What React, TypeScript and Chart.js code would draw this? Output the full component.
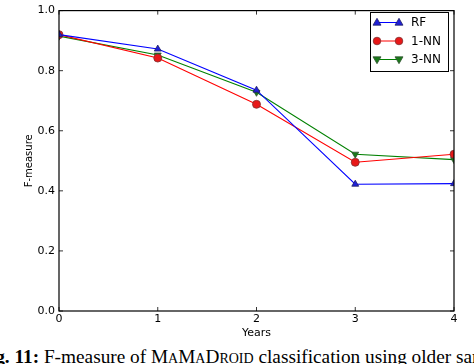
import React, { useEffect, useRef } from "react";
import { Chart, registerables } from "chart.js";

Chart.register(...registerables);

const years = [0, 1, 2, 3, 4];
const rfValues = [0.92, 0.872, 0.735, 0.422, 0.424];
const nn1Values = [0.92, 0.842, 0.688, 0.495, 0.522];
const nn3Values = [0.915, 0.852, 0.728, 0.522, 0.504];
const seriesLabels = ["RF", "1-NN", "3-NN"];
const yTicks = [0, 0.2, 0.4, 0.6, 0.8, 1.0];

const FONT = "'DejaVu Sans', sans-serif";

function drawMarker(ctx: CanvasRenderingContext2D, style: string, rot: number, x: number, y: number, r: number, fill: string, stroke: string) {
  ctx.save();
  ctx.fillStyle = fill;
  ctx.strokeStyle = stroke;
  ctx.lineWidth = 0.8;
  ctx.beginPath();
  if (style === "circle") {
    ctx.arc(x, y, r, 0, Math.PI * 2);
  } else {
    const s = rot === 180 ? -1 : 1;
    ctx.moveTo(x, y - s * r * 1.1);
    ctx.lineTo(x + r * 1.05, y + s * r * 0.7);
    ctx.lineTo(x - r * 1.05, y + s * r * 0.7);
    ctx.closePath();
  }
  ctx.fill();
  ctx.stroke();
  ctx.restore();
}

const framePlugin = {
  id: "frameTicks",
  afterDraw(chart: any) {
    const { ctx, chartArea, scales } = chart;
    const { left, right, top, bottom } = chartArea;
    ctx.save();
    ctx.strokeStyle = "#000";
    ctx.lineWidth = 1.2;
    ctx.strokeRect(left, top, right - left, bottom - top);
    ctx.lineWidth = 0.8;
    const tl = 4;
    years.forEach((v) => {
      const x = scales.x.getPixelForValue(v);
      ctx.beginPath();
      ctx.moveTo(x, bottom);
      ctx.lineTo(x, bottom - tl);
      ctx.moveTo(x, top);
      ctx.lineTo(x, top + tl);
      ctx.stroke();
    });
    yTicks.forEach((v) => {
      const y = scales.y.getPixelForValue(v);
      ctx.beginPath();
      ctx.moveTo(left, y);
      ctx.lineTo(left + tl, y);
      ctx.moveTo(right, y);
      ctx.lineTo(right - tl, y);
      ctx.stroke();
    });
    // legend
    const bx = 370, by = 12, bw = 78, bh = 59;
    ctx.fillStyle = "#fff";
    ctx.fillRect(bx, by, bw, bh);
    ctx.lineWidth = 1;
    ctx.strokeStyle = "#000";
    ctx.strokeRect(bx + 0.5, by + 0.5, bw, bh);
    chart.data.datasets.forEach((ds: any, i: number) => {
      const y = 22.5 + i * 18.5;
      const x1 = 377, x2 = 399;
      ctx.strokeStyle = ds.borderColor;
      ctx.lineWidth = 1;
      ctx.beginPath();
      ctx.moveTo(x1, y);
      ctx.lineTo(x2, y);
      ctx.stroke();
      drawMarker(ctx, ds.pointStyle, ds.pointRotation || 0, x1, y, 3.8, ds.pointBackgroundColor, ds.pointBorderColor);
      drawMarker(ctx, ds.pointStyle, ds.pointRotation || 0, x2, y, 3.8, ds.pointBackgroundColor, ds.pointBorderColor);
      ctx.fillStyle = "#000";
      ctx.font = "12px " + FONT;
      ctx.textBaseline = "middle";
      ctx.textAlign = "left";
      ctx.fillText(ds.label, 411, y + 0.5);
    });
    ctx.restore();
  },
};

export default function App() {
  const ref = useRef<HTMLCanvasElement>(null);
  useEffect(() => {
    const mk = (label: string, vals: number[], color: string, fill: string, edge: string, style: string, rot: number) => ({
      label,
      data: years.map((x, i) => ({ x, y: vals[i] })),
      borderColor: color,
      borderWidth: 1.1,
      pointStyle: style,
      pointRotation: rot,
      pointRadius: 4,
      pointBackgroundColor: fill,
      pointBorderColor: edge,
      pointBorderWidth: 0.8,
      clip: 0,
      tension: 0,
    });
    const chart = new Chart(ref.current!, {
      type: "line",
      data: {
        datasets: [
          mk(seriesLabels[0], rfValues, "#0000ff", "#1f1fd8", "#202060", "triangle", 0),
          mk(seriesLabels[1], nn1Values, "#ff0000", "#e81818", "#803030", "circle", 0),
          mk(seriesLabels[2], nn3Values, "#008000", "#1a7a1a", "#305030", "triangle", 180),
        ],
      },
      options: {
        animation: false,
        responsive: false,
        devicePixelRatio: 1,
        layout: { padding: { top: 6, right: 20, left: 0, bottom: 0 } },
        plugins: { legend: { display: false }, tooltip: { enabled: false } },
        scales: {
          x: {
            type: "linear",
            min: 0,
            max: 4,
            ticks: { stepSize: 1, color: "#000", font: { family: FONT, size: 11 }, padding: 2 },
            grid: { display: false, drawTicks: false },
            border: { display: false },
            title: { display: true, text: "Years", color: "#000", font: { family: FONT, size: 11 }, padding: { top: 0, bottom: 5 } },
            afterFit: (s: any) => { s.height = 34; },
          },
          y: {
            min: 0,
            max: 1,
            ticks: { stepSize: 0.2, color: "#000", font: { family: FONT, size: 11 }, padding: 4, callback: (v: any) => Number(v).toFixed(1) },
            grid: { display: false, drawTicks: false },
            border: { display: false },
            title: { display: true, text: "F-measure", color: "#000", font: { family: FONT, size: 10 }, padding: { top: 23, bottom: 0 } },
            afterFit: (s: any) => { s.width = 59; },
          },
        },
      } as any,
      plugins: [framePlugin],
    });
    return () => chart.destroy();
  }, []);
  return (
    <div style={{ position: "fixed", left: 0, top: 0, width: 474, height: 364, overflow: "hidden", background: "#fff" }}>
      <canvas ref={ref} width={474} height={345} style={{ position: "absolute", left: 0, top: 0 }} />
      <div
        style={{
          position: "absolute",
          left: -22,
          top: 347,
          whiteSpace: "nowrap",
          fontFamily: "'Liberation Serif', serif",
          fontSize: 19.3,
          lineHeight: "19.3px",
          color: "#000",
        }}
      >
        <b>Fig. 11:</b> F-measure of <span style={{ fontVariant: "small-caps" }}>MaMaDroid</span> classification using older samples
      </div>
    </div>
  );
}
